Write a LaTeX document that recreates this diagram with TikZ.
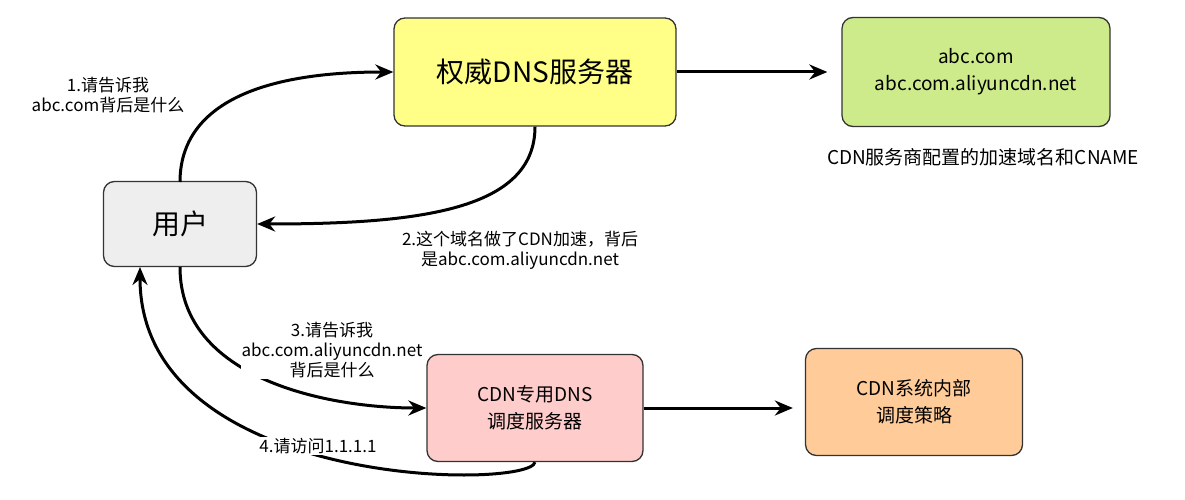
\documentclass[tikz,border=0pt]{standalone}
\usepackage{fontspec}
\setmainfont{Noto Sans CJK SC}
\usetikzlibrary{arrows.meta}
\definecolor{cy}{HTML}{FFFF88}
\definecolor{cg}{HTML}{CDEB8B}
\definecolor{cgr}{HTML}{EEEEEE}
\definecolor{cp}{HTML}{FFCCCC}
\definecolor{co}{HTML}{FFCC99}
\tikzset{
 box/.style={draw=black!80,line width=1.3pt,rounded corners=11pt,align=center,inner sep=0pt},
 arr/.style={line width=3pt,-{Stealth[length=18pt,width=15pt]}},
 lab/.style={align=center,font=\fontsize{17pt}{20pt}\selectfont,fill=white,inner sep=1pt}
}
\begin{document}
\begin{tikzpicture}[x=1pt,y=-1pt]
\useasboundingbox (0,0) rectangle (1185,500);
\node[box,fill=cy,minimum width=282pt,minimum height=108pt,font=\fontsize{28pt}{32pt}\selectfont] (auth) at (535,72) {权威DNS服务器};
\node[box,fill=cg,minimum width=268pt,minimum height=109pt,font=\fontsize{19pt}{27pt}\selectfont] (abc) at (976,72) {abc.com\\abc.com.aliyuncdn.net};
\node[font=\fontsize{19pt}{22pt}\selectfont] (cname) at (983,157) {CDN服务商配置的加速域名和CNAME};
\node[box,fill=cgr,minimum width=153pt,minimum height=85pt,font=\fontsize{28pt}{32pt}\selectfont] (user) at (180,224) {用户};
\node[box,fill=cp,minimum width=216pt,minimum height=107pt,font=\fontsize{19pt}{27pt}\selectfont] (cdn) at (535,408) {CDN专用DNS\\调度服务器};
\node[box,fill=co,minimum width=217pt,minimum height=107pt,font=\fontsize{19pt}{27pt}\selectfont] (sys) at (914,402) {CDN系统内部\\调度策略};
\coordinate (u1) at (180,182);
\coordinate (u2) at (140,267);
\draw[arr] (u1) .. controls (180,110) and (250,72) .. (auth.west);
\draw[arr] (auth.east) -- ([xshift=-14pt]abc.west);
\draw[arr] (auth.south) .. controls (535,210) and (420,224) .. (user.east);
\draw[arr] (user.south) .. controls (180,380) and (330,408) .. (cdn.west);
\draw[arr] (cdn.south) .. controls (530,490) and (140,490) .. (u2);
\draw[arr] (cdn.east) -- ([xshift=-12pt]sys.west|-cdn.east);
\node[lab] (l1) at (108,95) {1.请告诉我\\abc.com背后是什么};
\node[lab] (l2) at (520,250) {2.这个域名做了CDN加速，背后\\是abc.com.aliyuncdn.net};
\node[lab] (l3) at (332,350) {3.请告诉我\\abc.com.aliyuncdn.net\\背后是什么};
\node[lab] (l4) at (318,446) {4.请访问1.1.1.1};
\end{tikzpicture}
\end{document}
